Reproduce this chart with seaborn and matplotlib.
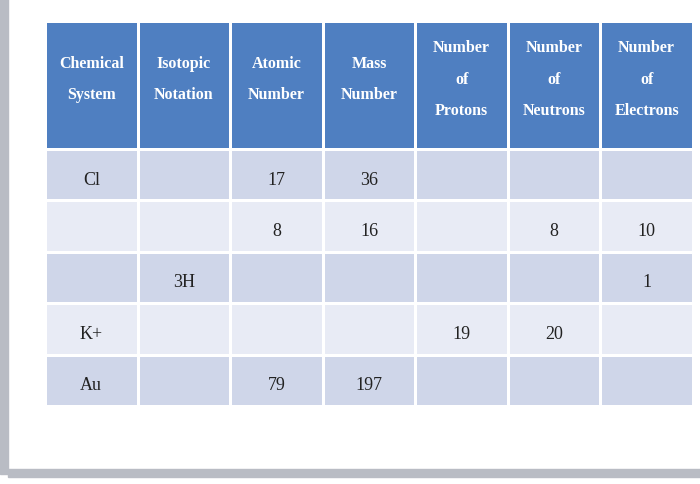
import numpy as np
import pandas as pd
import matplotlib.pyplot as plt
import seaborn as sns
from matplotlib.colors import ListedColormap
from matplotlib.patches import Rectangle

headers = ["Chemical\nSystem", "Isotopic\nNotation", "Atomic\nNumber", "Mass\nNumber",
           "Number\nof\nProtons", "Number\nof\nNeutrons", "Number\nof\nElectrons"]
row_cl = ["Cl", "", "17", "36", "", "", ""]
row_o = ["", "", "8", "16", "", "8", "10"]
row_h = ["", "3H", "", "", "", "", "1"]
row_k = ["K+", "", "", "", "19", "20", ""]
row_au = ["Au", "", "79", "197", "", "", ""]

cells = pd.DataFrame([row_cl, row_o, row_h, row_k, row_au])
shade = np.array([[i % 2] * len(headers) for i in range(len(cells))])

fig = plt.figure(figsize=(7, 4.85), dpi=100)
fig.patches.append(Rectangle((0, 0.02), 0.012, 0.98, transform=fig.transFigure, color="#b9bcc4"))
fig.patches.append(Rectangle((0.012, 0.015), 0.988, 0.015, transform=fig.transFigure, color="#b9bcc4"))

ax_h = fig.add_axes([45 / 700, 1 - 150 / 485, 648 / 700, 128 / 485])
sns.heatmap(np.zeros((1, len(headers))), ax=ax_h, cmap=ListedColormap(["#4f7fc1"]),
            cbar=False, linewidths=2, linecolor="white", xticklabels=False, yticklabels=False)
for j, h in enumerate(headers):
    ax_h.text(j + 0.5, 0.45, h, ha="center", va="center", color="white", fontsize=11.5,
              fontweight="bold", family="Liberation Serif", linespacing=2.3)

ax = fig.add_axes([45 / 700, 1 - 407 / 485, 648 / 700, 257 / 485])
sns.heatmap(shade, ax=ax, cmap=ListedColormap(["#cfd6e9", "#e8ebf5"]), cbar=False,
            annot=cells.values, fmt="", linewidths=2, linecolor="white",
            xticklabels=False, yticklabels=False,
            annot_kws={"fontsize": 13, "family": "Liberation Serif", "color": "#222222", "va": "bottom"})
for t in ax.texts:
    x, y = t.get_position()
    t.set_position((x, y + 0.25))

fig.savefig("out.png", dpi=100)
